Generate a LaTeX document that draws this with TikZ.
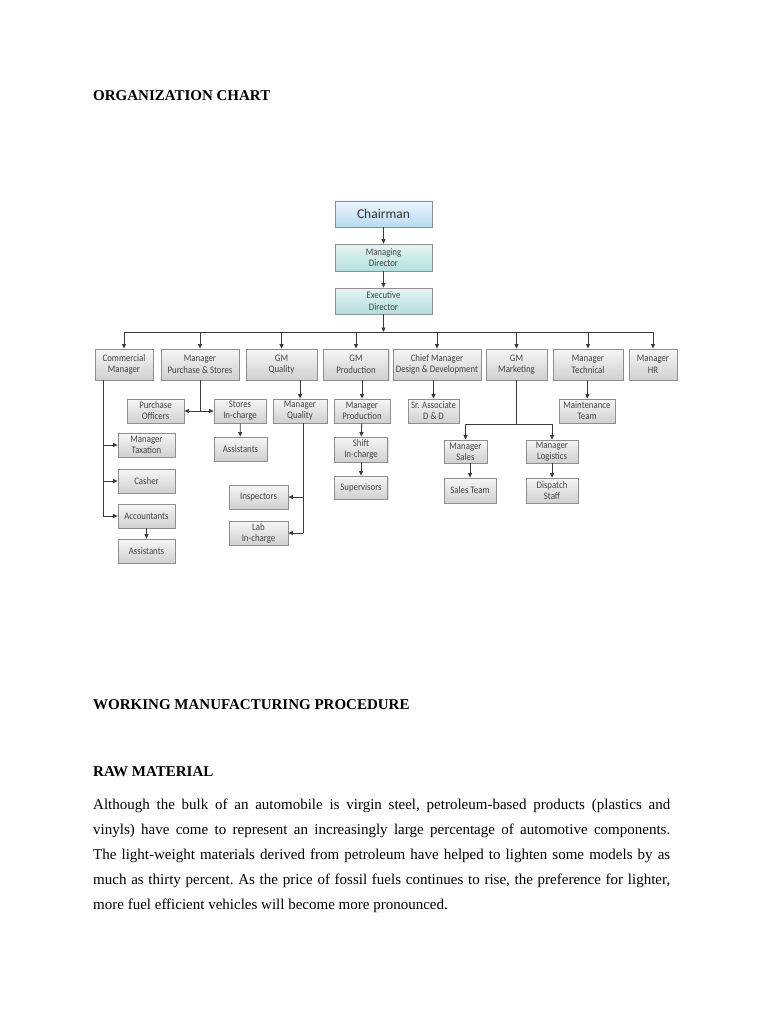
\documentclass[tikz,border=0pt]{standalone}
\usepackage{fontspec}
\setmainfont{Liberation Serif}
\newfontfamily\chartfont[FakeStretch=0.88]{Carlito}
\newfontfamily\chairfont{Carlito}
\usepackage{xcolor}
\usetikzlibrary{arrows.meta,shadows}

\definecolor{boxtop}{HTML}{F6F6F6}
\definecolor{boxbot}{HTML}{D0D0D0}
\definecolor{boxline}{HTML}{8E8E8E}
\definecolor{chairtop}{HTML}{ECF6FC}
\definecolor{chairbot}{HTML}{B7DCF1}
\definecolor{dirtop}{HTML}{E4F5F4}
\definecolor{dirbot}{HTML}{B3DFDC}
\definecolor{boxtext}{HTML}{444444}
\definecolor{wire}{HTML}{3A3A3A}

\tikzset{
  box/.style={draw=boxline, line width=0.8pt, top color=boxtop, bottom color=boxbot,
    inner sep=0pt, align=center, text=boxtext,
    font=\chartfont\fontsize{10}{11.5}\selectfont,
    drop shadow={shadow xshift=1.2pt, shadow yshift=-1.2pt, opacity=0.25}},
  small/.style={font=\chartfont\fontsize{10}{11}\selectfont},
  dirbox/.style={box, top color=dirtop, bottom color=dirbot},
  chairbox/.style={box, top color=chairtop, bottom color=chairbot,
    font=\chairfont\fontsize{13.5}{15}\selectfont, text=black!80},
  heading/.style={anchor=base west, inner sep=0pt, font=\bfseries\fontsize{15}{18}\selectfont},
}

\begin{document}
\begin{tikzpicture}[x=1pt,y=-1pt]
	\fill[white] (0,0) rectangle (768,1024);
	\useasboundingbox (0,0) rectangle (768,1024);
	%
	\node[heading] (title) at (93,101) {ORGANIZATION CHART};
	%
	% top of the chart
	\node[chairbox, minimum width=97pt, minimum height=26pt] (chair) at (383.5,214) {Chairman};
	\node[dirbox, minimum width=97pt, minimum height=27pt] (md) at (383.5,257.5) {Managing\\Director};
	\node[dirbox, minimum width=97pt, minimum height=26pt] (ed) at (383.5,301) {Executive\\Director};
	\coordinate (bus) at (0,332);
	% second row
	\node[box, minimum width=58pt, minimum height=31pt] (cm) at (124,364.5) {Commercial\\Manager};
	\node[box, minimum width=78pt, minimum height=31pt] (mps) at (200,364.5) {Manager\\Purchase \& Stores};
	\node[box, minimum width=71pt, minimum height=31pt] (gmq) at (281.5,364.5) {GM\\Quality};
	\node[box, minimum width=65pt, minimum height=31pt] (gmp) at (356,364.5) {GM\\Production};
	\node[box, minimum width=88pt, minimum height=31pt] (cmd) at (437,364.5) {Chief Manager\\Design \& Development};
	\node[box, minimum width=61pt, minimum height=31pt] (gmm) at (516.5,364.5) {GM\\Marketing};
	\node[box, minimum width=70pt, minimum height=31pt] (mt) at (588,364.5) {Manager\\Technical};
	\node[box, minimum width=48pt, minimum height=31pt] (mhr) at (653,364.5) {Manager\\HR};
	% third row
	\node[box, small, minimum width=57pt, minimum height=24pt] (po) at (155.5,411) {Purchase\\Officers};
	\node[box, small, minimum width=52pt, minimum height=24pt] (sic) at (240,411) {Stores\\In-charge};
	\node[box, small, minimum width=54pt, minimum height=24pt] (mq) at (300,411) {Manager\\Quality};
	\node[box, small, minimum width=56pt, minimum height=24pt] (mp) at (362,411) {Manager\\Production};
	\node[box, small, minimum width=51pt, minimum height=24pt] (sr) at (433.5,411) {Sr. Associate\\D \& D};
	\node[box, small, minimum width=56pt, minimum height=24pt] (mnt) at (587,411) {Maintenance\\Team};
	% commercial side
	\node[box, small, minimum width=57pt, minimum height=24pt] (tax) at (146.5,445) {Manager\\Taxation};
	\node[box, small, minimum width=57pt, minimum height=24pt] (cash) at (146.5,481) {Casher};
	\node[box, small, minimum width=57pt, minimum height=24pt] (acc) at (146.5,516) {Accountants};
	\node[box, small, minimum width=57pt, minimum height=24pt] (ass) at (146.5,551) {Assistants};
	% stores, quality and production
	\node[box, small, minimum width=53pt, minimum height=24pt] (sas) at (240.5,449) {Assistants};
	\node[box, small, minimum width=59pt, minimum height=24pt] (insp) at (258.5,497) {Inspectors};
	\node[box, small, minimum width=59pt, minimum height=24pt] (lab) at (258.5,533) {Lab\\In-charge};
	\node[box, small, minimum width=53pt, minimum height=25pt] (shift) at (361,449.5) {Shift\\In-charge};
	\node[box, small, minimum width=53pt, minimum height=23pt] (sup) at (361,487.5) {Supervisors};
	% marketing
	\coordinate (mbus) at (0,424);
	\node[box, small, minimum width=43pt, minimum height=23pt] (ms) at (465.5,451.5) {Manager\\Sales};
	\node[box, small, minimum width=52pt, minimum height=23pt] (ml) at (552,451.5) {Manager\\Logistics};
	\node[box, small, minimum width=52pt, minimum height=25pt] (st) at (470,490.5) {Sales Team};
	\node[box, small, minimum width=52pt, minimum height=25pt] (ds) at (552,490.5) {Dispatch\\Staff};
	\coordinate (cmv) at ([xshift=-21pt]cm.south);
	%
	% plain lines
	\draw[wire, line width=0.8pt]
		(cm.north |- bus) -- (mhr.north |- bus)
		(cmv) -- (cmv |- acc.west)
		(mps.south) -- (mps.south |- po.east)
		([xshift=3pt]mq.south) -- ([xshift=3pt]mq.south |- lab.east)
		(gmm.south) -- (gmm.south |- mbus)
		(ms.north |- mbus) -- (ml.north |- mbus);
	%
	\path[->, wire, line width=0.8pt, >={Triangle[length=4.5pt,width=4pt]}]
		% vertical arrows
		(chair) edge (md)
		(md) edge (ed)
		(ed) edge (ed.south |- bus)
		(cm.north |- bus) edge (cm)
		(mps.north |- bus) edge (mps)
		(gmq.north |- bus) edge (gmq)
		(gmp.north |- bus) edge (gmp)
		(cmd.north |- bus) edge (cmd)
		(gmm.north |- bus) edge (gmm)
		(mt.north |- bus) edge (mt)
		(mhr.north |- bus) edge (mhr)
		(gmq.south -| mq.north) edge (mq)
		(gmp.south -| mp.north) edge (mp)
		(cmd.south -| sr.north) edge (sr)
		(mt) edge (mnt)
		(sic) edge (sas)
		(acc) edge (ass)
		(mp) edge (shift)
		(shift) edge (sup)
		(ms.north |- mbus) edge (ms)
		(ml.north |- mbus) edge (ml)
		(ms.south -| st.north) edge (st)
		(ml) edge (ds)
		% horizontal arrows
		(mps.south |- po.east) edge (po)
		(mps.south |- po.east) edge (sic)
		(cmv |- tax.west) edge (tax)
		(cmv |- cash.west) edge (cash)
		(cmv |- acc.west) edge (acc)
		([xshift=3pt]mq.south |- insp.east) edge (insp)
		([xshift=3pt]mq.south |- lab.east) edge (lab);
	%
	\node[heading] (work) at (93,709) {WORKING MANUFACTURING PROCEDURE};
	\node[heading] (raw) at (93,776) {RAW MATERIAL};
	\node[anchor=north west, inner sep=0pt, text width=577pt, align=justify,
		font=\frenchspacing\fontsize{15}{25}\selectfont] (para) at (93,798.5)
		{Although the bulk of an automobile is virgin steel, petroleum-based products (plastics and\linebreak
		vinyls) have come to represent an increasingly large percentage of automotive components.\linebreak
		The light-weight materials derived from petroleum have helped to lighten some models by as\linebreak
		much as thirty percent. As the price of fossil fuels continues to rise, the preference for lighter,\linebreak
		more fuel efficient vehicles will become more pronounced.};
\end{tikzpicture}
\end{document}
